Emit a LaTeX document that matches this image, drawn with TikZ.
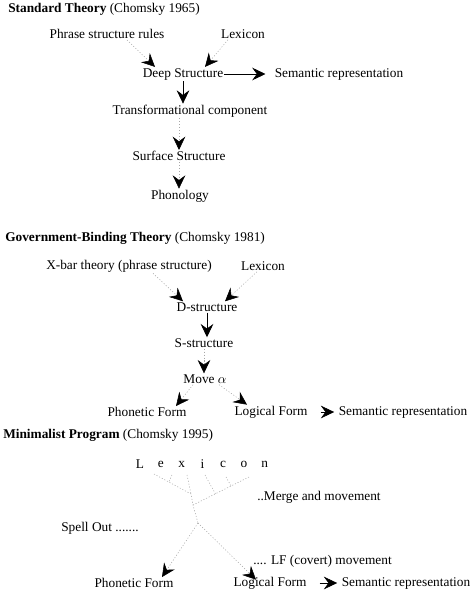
\documentclass[tikz,border=0pt]{standalone}
\usepackage{fontspec}
\setmainfont{Liberation Serif}
\usetikzlibrary{arrows.meta,calc}

\begin{document}
\begin{tikzpicture}[x=0.75pt,y=0.75pt,yscale=-1,xscale=1,
  every node/.style={inner sep=0.75pt,font=\fontsize{10}{12}\selectfont},
  dotarrow/.style={-{Stealth[length=10pt,width=9.5pt,inset=3.5pt,color=black]},draw=gray!70,dash pattern=on 0.8pt off 1.4pt,line width=0.4pt},
  solidarrow/.style={-{Stealth[length=10pt,width=9.5pt,inset=3.5pt]},line width=0.5pt},
  headonly/.style={-{Stealth[length=10pt,width=9.5pt,inset=3.5pt]},shorten <=9pt,shorten >=2.5pt},
  treeline/.style={draw=gray!70,dash pattern=on 0.8pt off 1.4pt,line width=0.4pt}]
\path[use as bounding box] (0,0) rectangle (474,601);

% Standard Theory
\node[anchor=west] (title1) at (7,9) {\textbf{Standard Theory} (Chomsky 1965)};
\node (psr) at (107,34) {Phrase structure rules};
\node (lex1) at (243,34) {Lexicon};
\node (ds) at (183,74) {Deep Structure};
\node (sem1) at (339,74) {Semantic representation};
\node (tc) at (190,111) {Transformational component};
\node (ss) at (179,156) {Surface Structure};
\node (phon) at (180,196) {Phonology};

\draw[dotarrow] ($(psr.south)+(20,0)$) -- ($(ds.north)+(-28,0)$);
\draw[dotarrow] ($(lex1.south)+(-15,0)$) -- ($(ds.north)+(22,0)$);
\draw[solidarrow] (ds.east) -- ($(sem1.west)+(-8,0)$);
\draw[solidarrow] (ds.south) -- (ds.south |- tc.north);
\draw[dotarrow] (ss.north |- tc.south) -- (ss.north);
\draw[dotarrow] (ss.south) -- (ss.south |- phon.north);

% Government-Binding Theory
\node[anchor=west] (title2) at (4,238) {\textbf{Government-Binding Theory} (Chomsky 1981)};
\node (xbar) at (129,266) {X-bar theory (phrase structure)};
\node (lex2) at (263,266) {Lexicon};
\node (dstr) at (207,307) {D-structure};
\node (sstr) at (204,343) {S-structure};
\node (move) at (205,379) {Move $\alpha$};
\node (pf2) at (147,412) {Phonetic Form};
\node (lf2) at (271,412) {Logical Form};
\node (sem2) at (403,412) {Semantic representation};

\draw[dotarrow] ($(xbar.south)+(24,0)$) -- ($(dstr.north)+(-24,0)$);
\draw[dotarrow] ($(lex2.south)+(-6,0)$) -- ($(dstr.north)+(18,0)$);
\draw[solidarrow] (dstr.south) -- (dstr.south |- sstr.north);
\draw[dotarrow] (sstr.south) -- (sstr.south |- move.north);
\draw[dotarrow] ($(move.south)+(-12,0)$) -- ($(pf2.north)+(29,0)$);
\draw[dotarrow] ($(move.south)+(14,0)$) -- ($(lf2.north)+(-24,0)$);
\draw[headonly] (lf2.east) -- (sem2.west);

% Minimalist Program
\node[anchor=west] (title3) at (2,435) {\textbf{Minimalist Program} (Chomsky 1995)};
\foreach \l [count=\i] in {L,e,x,i,c,o,n}
  \node (lx\i) at ({119.2+20.8*\i},464) {\l};
\node[anchor=west] (merge) at (256,497) {..Merge and movement};
\node[anchor=west] (spell) at (60,528) {Spell Out .......};
\node[anchor=west] (lfmove) at (252,561) {.... LF (covert) movement};
\node (pf3) at (134,583) {Phonetic Form};
\node (lf3) at (270,583) {Logical Form};
\node (sem3) at (406,583) {Semantic representation};

\coordinate (bL) at (154,474);
\coordinate (be) at (172,475);
\coordinate (bx) at (187,475);
\coordinate (bi) at (205,475);
\coordinate (bc) at (226,477);
\coordinate (bn) at (249,477);
\coordinate (top) at (191,494);
\coordinate (mid) at (193,505);
\coordinate (split) at (198,523);
\draw[treeline] (bL) -- (top) -- (mid) -- (split);
\draw[treeline] (bx) -- (top);
\draw[treeline] (bn) -- (mid);
\draw[treeline] (be) -- ($(bL)!0.4!(top)$);
\draw[treeline] (bi) -- ($(bn)!0.6!(mid)$);
\draw[treeline] (bc) -- ($(bn)!0.32!(mid)$);
\draw[dotarrow] (split) -- ($(pf3.north)+(28,0)$);
\draw[dotarrow] (split) -- ($(lf3.north)+(-14,4)$);
\draw[headonly] (lf3.east) -- (sem3.west);
\end{tikzpicture}
\end{document}
